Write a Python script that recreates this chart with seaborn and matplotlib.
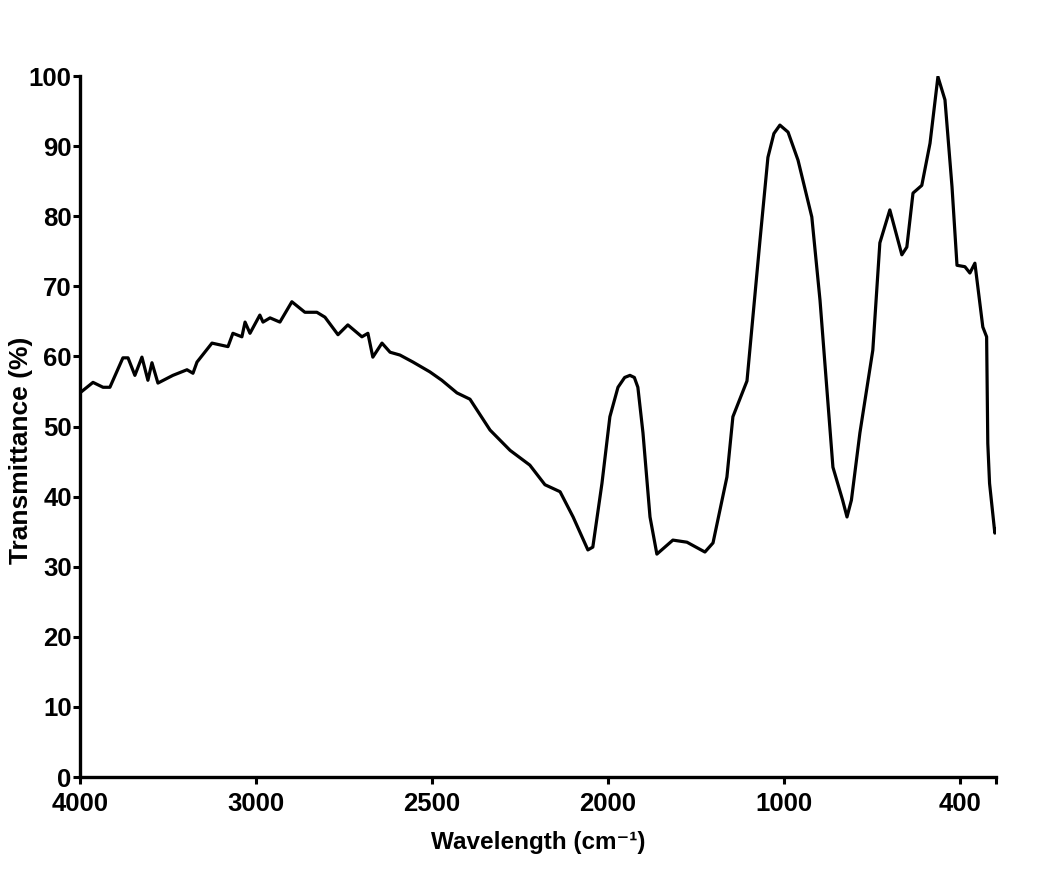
import numpy as np
import pandas as pd
import seaborn as sns
import matplotlib
matplotlib.use("Agg")
import matplotlib.pyplot as plt

# spectrum (wavenumber in cm-1, transmittance in %)
wavenumber = [4000, 3926, 3869, 3830, 3756, 3727, 3688, 3648, 3614, 3591,
              3557, 3472, 3392, 3358, 3335, 3250, 3159, 3131, 3080, 3062,
              3034, 2989, 2980, 2960, 2932, 2898, 2861, 2827, 2804, 2767,
              2739, 2699, 2682, 2668, 2642, 2619, 2591, 2554, 2506, 2472,
              2429, 2392, 2335, 2278, 2222, 2179, 2136, 2099, 2057, 2043,
              2017, 1989, 1943, 1905, 1875, 1850, 1830, 1801, 1761, 1722,
              1631, 1551, 1449, 1403, 1324, 1290, 1210, 1136, 1091, 1057,
              1023, 986, 952, 905, 877, 833, 800, 785, 770, 741,
              697, 673, 639, 598, 581, 560, 530, 502, 475, 451,
              427, 410, 383, 366, 349, 322, 309, 305, 299, 281,
              274]
transmittance = [54.8, 56.3, 55.6, 55.6, 59.8, 59.8, 57.3, 59.9, 56.6, 59.1,
                 56.2, 57.3, 58.1, 57.6, 59.2, 61.9, 61.4, 63.3, 62.8, 64.9,
                 63.3, 65.9, 64.9, 65.5, 64.9, 67.8, 66.3, 66.3, 65.6, 63.1,
                 64.5, 62.8, 63.3, 59.9, 61.9, 60.6, 60.2, 59.2, 57.8, 56.6,
                 54.8, 53.9, 49.5, 46.6, 44.5, 41.7, 40.7, 37.1, 32.4, 32.8,
                 41.9, 51.4, 55.6, 57.0, 57.3, 57.0, 55.6, 49.1, 37.1, 31.8,
                 33.8, 33.5, 32.1, 33.4, 42.8, 51.4, 56.5, 76.6, 88.4, 91.8,
                 93.0, 92.0, 88.0, 79.9, 68.0, 44.2, 39.5, 37.1, 39.5, 49.1,
                 60.9, 76.2, 80.9, 74.5, 75.6, 83.3, 84.4, 90.4, 99.9, 96.6,
                 84.2, 73.0, 72.8, 71.9, 73.3, 64.2, 62.8, 47.6, 41.9, 34.8,
                 35.5]

tick_values = [4000, 3000, 2500, 2000, 1000, 400]
tick_labels = ["4000", "3000", "2500", "2000", "1000", "400"]
y_ticks = [0, 10, 20, 30, 40, 50, 60, 70, 80, 90, 100]

# the original axis puts the labelled wavenumbers at equal spacing
seg_w = np.array(tick_values[::-1], dtype=float)   # increasing
seg_p = -np.arange(len(tick_values))[::-1].astype(float)  # -5 .. 0


def forward(w):
    w = np.asarray(w, dtype=float)
    p = np.interp(w, seg_w, seg_p)
    lo = w < seg_w[0]
    hi = w > seg_w[-1]
    p = np.where(lo, seg_p[0] - (seg_w[0] - w) / (seg_w[1] - seg_w[0]), p)
    p = np.where(hi, seg_p[-1] + (w - seg_w[-1]) / (seg_w[-1] - seg_w[-2]), p)
    return p


def inverse(p):
    p = np.asarray(p, dtype=float)
    w = np.interp(p, seg_p, seg_w)
    lo = p < seg_p[0]
    hi = p > seg_p[-1]
    w = np.where(lo, seg_w[0] - (seg_p[0] - p) * (seg_w[1] - seg_w[0]), w)
    w = np.where(hi, seg_w[-1] + (p - seg_p[-1]) * (seg_w[-1] - seg_w[-2]), w)
    return w


df = pd.DataFrame({"wavenumber": wavenumber, "transmittance": transmittance})

sns.set_style("ticks")
plt.rcParams["font.family"] = ["Liberation Sans", "DejaVu Sans"]
plt.rcParams["font.weight"] = "bold"

fig = plt.figure(figsize=(10.4, 8.81), dpi=100)
ax = fig.add_axes([0.0769, 0.118, 0.8808, 0.7957])
ax.set_xscale("function", functions=(forward, inverse))

sns.lineplot(data=df, x="wavenumber", y="transmittance", color="black",
             linewidth=2.3, estimator=None, sort=False, ax=ax)

ax.set_xlim(4000, 277)
ax.set_ylim(0, 100)
ax.set_xticks(tick_values + [277])
ax.set_xticklabels(tick_labels + [""])
ax.set_yticks(y_ticks)
ax.set_yticklabels([str(v) for v in y_ticks])

sns.despine(ax=ax)
for s in ["left", "bottom"]:
    ax.spines[s].set_linewidth(2.4)
    ax.spines[s].set_color("black")
ax.tick_params(axis="both", width=2.2, length=5, labelsize=18.5,
               color="black", labelcolor="black")
ax.tick_params(axis="x", pad=6)
ax.tick_params(axis="y", pad=1)
for lab in ax.get_xticklabels() + ax.get_yticklabels():
    lab.set_fontweight("bold")

ax.set_xlabel("Wavelength (cm\u207b\u00b9)", fontsize=17.5, fontweight="bold",
              color="black", va="center")
ax.set_ylabel("Transmittance (%)", fontsize=19, fontweight="bold",
              color="black", va="center")
ax.xaxis.set_label_coords(0.5, -0.094)
ax.yaxis.set_label_coords(-0.064, 0.466)

fig.savefig("out.png", dpi=100)
